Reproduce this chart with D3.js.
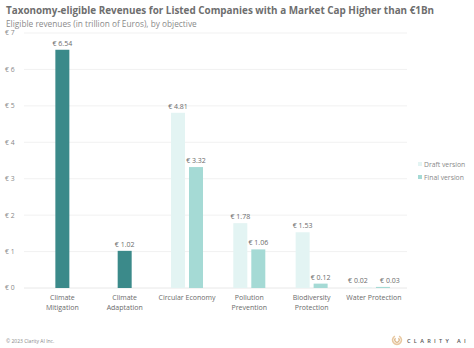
<!DOCTYPE html>
<html lang="en">
<head>
	<meta charset="utf-8">
	<title>taxonomy_revenues</title>
	<style>
		body { margin: 0; background: #fff; }
		svg { display: block; font-family: "Open Sans", sans-serif; }
	</style>
</head>
<body>
	<script src="https://cdn.jsdelivr.net/npm/d3@7"></script>
	<script>
		// categories and values (trillion €)
		const categories = ["Climate Mitigation", "Climate Adaptation", "Circular Economy",
			"Pollution Prevention", "Biodiversity Protection", "Water Protection"];
		const labelLines = [["Climate", "Mitigation"], ["Climate", "Adaptation"], ["Circular Economy"],
			["Pollution", "Prevention"], ["Biodiversity", "Protection"], ["Water Protection"]];
		const singleValues = [6.54, 1.02, null, null, null, null];
		const draftValues = [null, null, 4.81, 1.78, 1.53, 0.02];
		const finalValues = [null, null, 3.32, 1.06, 0.12, 0.03];
		const yTicks = [0, 1, 2, 3, 4, 5, 6, 7];
		const legendItems = ["Draft version", "Final version"];

		const width = 474, height = 348;
		const colors = { single: "#3b8a8a", draft: "#e3f4f3", final: "#a5dad5" };
		const textColor = "#6b6b6b";

		const svg = d3.select("body").append("svg")
			.attr("width", width)
			.attr("height", height);

		const x = d3.scaleBand()
			.domain(categories)
			.range([31.2, 405.1]);

		const y = d3.scaleLinear()
			.domain([0, 7])
			.range([288, 33]);

		const barW = 14;

		// title
		svg.append("text")
			.attr("x", 6).attr("y", 14)
			.attr("font-size", 9.9)
			.attr("font-weight", 700)
			.attr("fill", "#6e6e6e")
			.text("Taxonomy-eligible Revenues for Listed Companies with a Market Cap Higher than €1Bn");

		svg.append("text")
			.attr("x", 6).attr("y", 27)
			.attr("font-size", 8.3)
			.attr("fill", "#8a8a8a")
			.text("Eligible revenues (in trillion of Euros), by objective");

		// grid
		svg.append("g")
			.selectAll("line")
			.data(yTicks)
			.join("line")
			.attr("x1", 24).attr("x2", 407)
			.attr("y1", d => y(d)).attr("y2", d => y(d))
			.attr("stroke", (d) => d === 0 ? "#e2e2e2" : "#eeeeee")
			.attr("stroke-width", 0.8);

		svg.append("g")
			.selectAll("text")
			.data(yTicks)
			.join("text")
			.attr("x", 5)
			.attr("y", d => y(d))
			.attr("dy", "0.35em")
			.attr("font-size", 6.8)
			.attr("fill", "#888")
			.text(d => "€ " + d);

		// bars
		const series = [
			{ key: "single", values: singleValues, offset: 0 },
			{ key: "draft", values: draftValues, offset: -9 },
			{ key: "final", values: finalValues, offset: 9 }
		];

		for (const s of series) {
			const data = categories.map((c, i) => ({ c, v: s.values[i] })).filter(d => d.v != null);
			const g = svg.append("g");
			g.selectAll("rect")
				.data(data)
				.join("rect")
				.attr("x", d => x(d.c) + x.bandwidth() / 2 + s.offset - barW / 2)
				.attr("width", barW)
				.attr("y", d => y(d.v))
				.attr("height", d => Math.max(y(0) - y(d.v), 0.8))
				.attr("fill", colors[s.key]);

			// tiny pairs: push labels apart so they don't collide
			g.selectAll("text")
				.data(data)
				.join("text")
				.attr("x", d => x(d.c) + x.bandwidth() / 2 + s.offset + (d.v < 0.1 ? Math.sign(s.offset) * 7 : 0))
				.attr("y", d => y(d.v) - 4)
				.attr("text-anchor", "middle")
				.attr("font-size", 7)
				.attr("fill", textColor)
				.text(d => "€ " + d.v.toFixed(2));
		}

		// category labels
		const cat = svg.append("g")
			.selectAll("text")
			.data(categories)
			.join("text")
			.attr("x", d => x(d) + x.bandwidth() / 2)
			.attr("y", 300)
			.attr("text-anchor", "middle")
			.attr("font-size", 7)
			.attr("fill", textColor);

		cat.selectAll("tspan")
			.data((d, i) => labelLines[i])
			.join("tspan")
			.attr("x", function () { return this.parentNode.getAttribute("x"); })
			.attr("dy", (d, i) => i === 0 ? 0 : 10)
			.text(d => d);

		// legend
		const legend = svg.append("g")
			.selectAll("g")
			.data(legendItems)
			.join("g")
			.attr("transform", (d, i) => `translate(418,${165 + i * 13})`);

		legend.append("rect")
			.attr("x", 0).attr("y", -3)
			.attr("width", 4).attr("height", 4)
			.attr("fill", (d, i) => i === 0 ? colors.draft : colors.final);

		legend.append("text")
			.attr("x", 6).attr("y", 0)
			.attr("dy", "0.3em")
			.attr("font-size", 6.8)
			.attr("fill", "#888")
			.text(d => d);

		// footer
		svg.append("text")
			.attr("x", 6).attr("y", 343)
			.attr("font-size", 5)
			.attr("fill", "#888")
			.text("© 2023 Clarity AI Inc.");

		const logo = svg.append("g").attr("transform", "translate(397,340)");
		logo.append("path")
			.attr("d", d3.arc()({ innerRadius: 3.6, outerRadius: 5.2, startAngle: 0.5, endAngle: Math.PI * 2 - 0.5 }))
			.attr("fill", "#e8c8a0");
		logo.append("path")
			.attr("d", d3.arc()({ innerRadius: 1.6, outerRadius: 2.8, startAngle: 0.7, endAngle: Math.PI * 2 - 0.7 }))
			.attr("fill", "#ddb88a");
		svg.append("text")
			.attr("x", 407).attr("y", 342.5)
			.attr("font-size", 5.6)
			.attr("font-weight", 600)
			.attr("letter-spacing", 3.3)
			.attr("fill", "#555")
			.text("CLARITY AI");
	</script>
</body>
</html>
